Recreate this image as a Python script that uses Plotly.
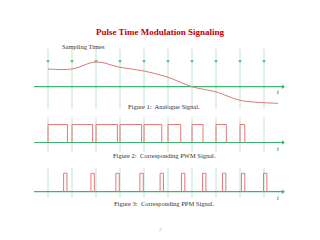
import plotly.graph_objects as go

# ---- data (time in sampling periods, amplitudes in arbitrary units) ----
sample_times = [0, 1, 2, 3, 4, 5, 6, 7, 8, 9]
analog_t = [0, 1, 2, 3, 4, 5, 6, 7, 8, 9, 9.58]
analog_v = [1.77, 1.77, 2.47, 1.94, 1.57, 0.94, 0.0, -0.52, -1.36, -1.6, -1.66]
pwm_start = [0, 1, 2, 3, 4, 5, 6, 7, 8]
pwm_width = [0.81, 0.86, 0.89, 0.90, 0.74, 0.53, 0.46, 0.43, 0.20]
ppm_start = [0.65, 1.79, 2.83, 3.83, 4.67, 5.56, 6.44, 7.27, 8.06, 8.98]
ppm_width = 0.14
pulse_height = 1.0

title = "Pulse Time Modulation Signaling"
captions = ["Figure 1:  Analogue Signal.", "Figure 2:  Corresponding PWM Signal.",
            "Figure 3:  Corresponding PPM Signal."]

# ---- styling constants ----
W, H = 320, 240
AX_X0, AX_X1 = -0.58, 9.79
GRID = "#b4e2c6"
AXC = "#3cb371"
RED = "#e07a7a"
SERIF = "Liberation Serif, Times New Roman, serif"

fig = go.Figure()

# panel layout: (y-axis name, y range, vertical-line extent)
panels = [
    ("y", [-2.53, 4.17], (-2.13, 3.77)),
    ("y2", [-0.75, 1.583], (-0.528, 1.417)),
    ("y3", [-0.56, 1.505], (-0.342, 1.288)),
]
xnames = ["x", "x2", "x3"]

for (yn, rng, (lo, hi)), xn in zip(panels, xnames):
    vx, vy = [], []
    for t in sample_times:
        vx += [t, t, None]
        vy += [lo, hi, None]
    fig.add_trace(go.Scatter(x=vx, y=vy, mode="lines", xaxis=xn, yaxis=yn,
                             line=dict(color=GRID, width=0.9), hoverinfo="skip"))
    fig.add_trace(go.Scatter(x=[AX_X0, AX_X1], y=[0, 0], mode="lines", xaxis=xn, yaxis=yn,
                             line=dict(color=AXC, width=1.2), hoverinfo="skip"))
    fig.add_trace(go.Scatter(x=[AX_X1], y=[0], mode="markers", xaxis=xn, yaxis=yn,
                             marker=dict(symbol="triangle-right", size=4, color=AXC),
                             hoverinfo="skip"))

# sampling arrows in panel 1
fig.add_trace(go.Scatter(x=sample_times, y=[2.55] * len(sample_times), mode="markers",
                         marker=dict(symbol="triangle-down", size=3.5, color="#5fbf86"),
                         xaxis="x", yaxis="y", hoverinfo="skip"))

# analogue signal
fig.add_trace(go.Scatter(x=analog_t, y=analog_v, mode="lines", line_shape="spline",
                         line=dict(color=RED, width=1), xaxis="x", yaxis="y"))

# PWM
px, py = [], []
for s, w in zip(pwm_start, pwm_width):
    px += [s, s, s + w, s + w, None]
    py += [0, pulse_height, pulse_height, 0, None]
fig.add_trace(go.Scatter(x=px, y=py, mode="lines", line=dict(color=RED, width=1),
                         xaxis="x2", yaxis="y2"))

# PPM
qx, qy = [], []
for s in ppm_start:
    qx += [s, s, s + ppm_width, s + ppm_width, None]
    qy += [0, pulse_height, pulse_height, 0, None]
fig.add_trace(go.Scatter(x=qx, y=qy, mode="lines", line=dict(color=RED, width=1),
                         xaxis="x3", yaxis="y3"))


def py2paper(p):
    return 1 - p / H


xr = [-2, 11.3333]
hidden = dict(visible=False, showgrid=False, zeroline=False, fixedrange=True)
layout = dict(
    width=W, height=H, margin=dict(l=0, r=0, t=0, b=0),
    paper_bgcolor="white", plot_bgcolor="white", showlegend=False,
    xaxis=dict(range=xr, domain=[0, 1], anchor="y", **hidden),
    xaxis2=dict(range=xr, domain=[0, 1], anchor="y2", **hidden),
    xaxis3=dict(range=xr, domain=[0, 1], anchor="y3", **hidden),
    yaxis=dict(range=panels[0][1], domain=[py2paper(112), py2paper(45)], anchor="x", **hidden),
    yaxis2=dict(range=panels[1][1], domain=[py2paper(156), py2paper(114)], anchor="x2", **hidden),
    yaxis3=dict(range=panels[2][1], domain=[py2paper(202), py2paper(164)], anchor="x3", **hidden),
)
fig.update_layout(**layout)

ann = []
ann.append(dict(text="<b>" + title + "</b>", x=160 / W, y=py2paper(32),
                font=dict(family=SERIF, size=9, color="#c00000")))
ann.append(dict(text="Sampling Times", x=83 / W, y=py2paper(47),
                font=dict(family=SERIF, size=6.5, color="#333333")))
for cap, yy in zip(captions, [106, 155, 203]):
    ann.append(dict(text=cap, x=164 / W, y=py2paper(yy),
                    font=dict(family=SERIF, size=6.5, color="#333333")))
for yy in [92, 149, 198]:
    ann.append(dict(text="<i>t</i>", x=278 / W, y=py2paper(yy),
                    font=dict(family=SERIF, size=6, color="#333333")))
ann.append(dict(text="2", x=160 / W, y=py2paper(229),
                font=dict(family=SERIF, size=5, color="#999999")))
for a in ann:
    a.update(xref="paper", yref="paper", showarrow=False, xanchor="center", yanchor="middle")
fig.update_layout(annotations=ann)

fig.write_html("out.html")
